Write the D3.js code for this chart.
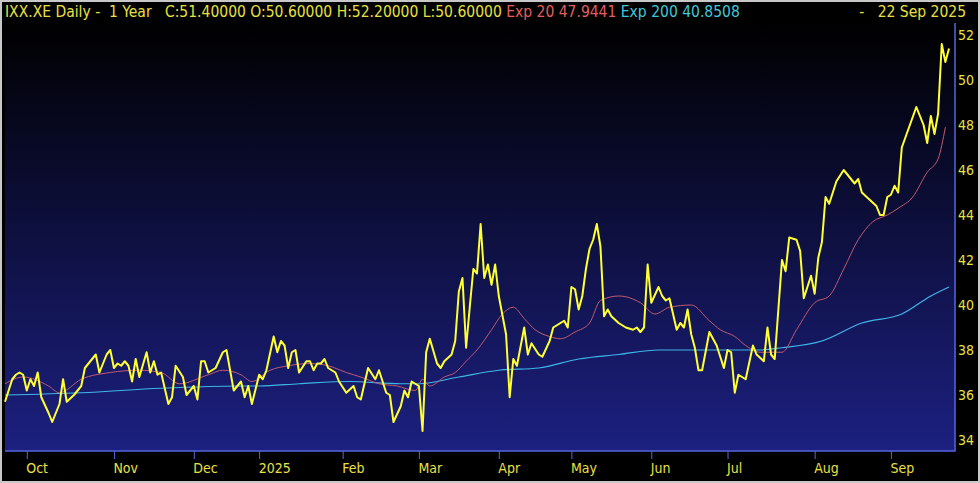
<!DOCTYPE html>
<html><head><meta charset="utf-8">
<script src="https://cdn.jsdelivr.net/npm/d3@7/dist/d3.min.js"></script>
<style>body{margin:0;background:#c8c8c8}svg{display:block}</style>
</head><body><svg id="c" width="980" height="483"></svg>
<script>
const closeDay=[0,2,3,4,5,6,7,8,9,10,12,13,15,16,17,19,21,22,25,26,28,29,30,31,32,33,34,35,36,37,39,40,41,42,43,45,46,47,49,50,51,52,53,54,55,56,58,60,61,63,65,66,67,68,70,71,72,74,75,76,77,78,79,80,81,83,84,85,86,87,88,89,91,92,94,96,97,98,100,102,103,105,106,107,109,110,111,112,114,115,116,117,119,120,121,123,124,125,126,127,128,129,130,131,132,133,134,135,136,138,139,140,141,143,144,145,147,148,150,151,153,154,155,156,157,158,159,160,161,162,163,164,165,166,167,169,171,173,174,175,176,177,178,180,181,182,183,185,186,187,188,189,190,191,192,194,196,198,199,200,201,202,204,206,207,209,210,211,212,214,215,216,218,219,220,222,223,224,225,226,227,229,231,234,235,236,238,240,241,242,243,244,245,246,247,249,251,253,254,255,256,257,258,259,260];
const closeVal=[35.7,36.7,36.9,37.0,36.9,36.2,36.7,36.4,37.0,35.9,35.2,34.8,35.6,36.7,35.7,36.0,36.4,37.2,37.8,37.0,37.8,38.0,37.2,37.4,37.3,37.5,37.3,36.6,37.6,36.8,37.9,37.0,37.5,36.9,37.0,35.6,35.9,37.3,36.8,36.0,36.2,36.4,35.8,37.5,37.5,37.0,37.2,37.9,38.0,36.2,36.6,35.9,36.4,35.6,36.9,36.7,37.1,38.6,37.9,38.4,38.2,37.2,37.9,38.0,37.0,37.5,37.5,37.1,37.4,37.4,37.6,37.2,37.0,36.6,36.1,36.4,35.9,35.8,37.2,36.7,37.1,36.1,36.0,34.8,35.5,36.2,35.9,36.6,36.4,34.4,37.9,38.5,37.4,37.2,37.5,37.8,38.4,40.6,41.2,38.1,39.9,41.6,41.4,43.6,41.2,41.8,40.9,41.8,40.4,38.7,35.9,37.6,37.3,39.0,37.8,38.3,37.8,37.7,38.4,39.0,39.2,39.3,39.0,40.8,40.7,39.8,40.4,41.6,42.5,42.9,43.6,42.6,39.5,39.8,39.5,39.2,39.0,38.9,39.0,38.8,39.0,41.8,40.1,40.8,40.4,40.2,40.3,38.9,39.2,39.0,39.8,38.7,38.1,37.1,37.1,38.8,38.2,37.2,38.0,37.9,36.1,36.9,36.7,38.2,37.8,37.5,39.0,37.8,37.6,42.0,41.5,43.0,42.9,42.4,40.3,41.3,40.5,42.1,42.8,44.8,44.5,45.5,46.0,45.4,45.6,45.0,44.7,44.4,44.0,44.0,44.8,44.9,45.3,45.0,47.0,47.9,48.8,48.0,47.2,48.4,47.6,48.5,51.6,50.8,51.4];
const ema20Day=[0,5,12,15,21,29,37,43,48,56,60,65,68,73,78,84,89,94,98,103,108,113,115,117,121,124,127,130,134,137,140,143,146,150,153,157,161,164,169,175,179,183,189,194,197,201,204,208,212,214,218,223,227,231,235,239,243,246,250,254,257,259];
const ema20Val=[36.5,36.8,36.4,36.1,36.7,37.0,37.1,37.0,36.5,36.9,37.1,36.9,36.6,37.1,37.3,37.4,37.3,37.0,36.8,36.5,36.4,36.2,36.7,36.4,36.8,37.0,37.5,38.0,38.9,39.6,39.9,39.4,38.9,38.6,38.5,38.8,39.2,40.2,40.4,40.1,39.6,39.9,40.0,39.3,38.9,38.6,38.2,37.9,37.9,37.9,38.9,40.1,40.4,41.6,42.9,43.7,44.0,44.3,44.8,45.9,46.5,47.9];
const ema200Day=[0,21,43,65,70,81,95,109,114,125,136,147,158,169,180,191,208,214,225,236,247,255,260];
const ema200Val=[36.0,36.1,36.3,36.4,36.4,36.5,36.6,36.5,36.5,36.8,37.1,37.2,37.6,37.8,38.0,38.0,38.0,38.1,38.4,39.2,39.6,40.4,40.8];
const monthLabels=["Oct","Nov","Dec","2025","Feb","Mar","Apr","May","Jun","Jul","Aug","Sep"];
const monthDay=[6,30,52,70,93,114,136,156,178,199,223,244];
const yTicks=[34,36,38,40,42,44,46,48,50,52];

const svg=d3.select("#c");
const L=5,R=955,T=23,B=451;
const F="'DejaVu Sans Condensed','DejaVu Sans',sans-serif";
svg.append("rect").attr("x",2).attr("y",2).attr("width",976).attr("height",479).attr("fill","#000");
const g=svg.append("defs").append("linearGradient").attr("id","bg").attr("x1",0).attr("y1",0).attr("x2",0).attr("y2",1);
g.append("stop").attr("offset","0%").attr("stop-color","#000000");
g.append("stop").attr("offset","100%").attr("stop-color","#1c2080");
svg.append("rect").attr("x",L).attr("y",T).attr("width",R-L).attr("height",B-T).attr("fill","url(#bg)");
svg.append("path").attr("d",`M${L},${B}H${R}V${T}`).attr("stroke","#5566dd").attr("stroke-width",1.5).attr("fill","none");

const x=d3.scaleLinear().domain([0,260]).range([L,949]);
const y=d3.scaleLinear().domain([34,52]).range([440,35]);
const line=d3.line().x(d=>x(d[0])).y(d=>y(d[1]));
svg.append("path").datum(d3.zip(ema200Day,ema200Val)).attr("d",line.curve(d3.curveMonotoneX)).attr("fill","none").attr("stroke","#3fb6e6").attr("stroke-width",1.2);
svg.append("path").datum(d3.zip(ema20Day,ema20Val)).attr("d",line.curve(d3.curveMonotoneX)).attr("fill","none").attr("stroke","#c05a70").attr("stroke-width",1);
svg.append("path").datum(d3.zip(closeDay,closeVal)).attr("d",line.curve(d3.curveLinear)).attr("fill","none").attr("stroke","#ffff33").attr("stroke-width",2).attr("stroke-linejoin","round");

const yax=svg.append("g").attr("transform",`translate(${R},0)`).call(d3.axisRight(y).tickValues(yTicks).tickSize(0).tickPadding(3));
yax.select(".domain").remove();
yax.selectAll("text").attr("fill","#e8e040").attr("font-family",F).attr("font-size",14);
const xax=svg.append("g").attr("transform",`translate(0,${B})`).call(d3.axisBottom(x).tickValues(monthDay).tickFormat((d,i)=>monthLabels[i]).tickSize(8).tickPadding(4));
xax.select(".domain").remove();
xax.selectAll("line").attr("stroke","#5566dd");
xax.selectAll("text").attr("fill","#e8e040").attr("font-family",F).attr("font-size",14).attr("text-anchor","start").attr("dx",-1);

const hdr=svg.append("text").attr("x",5).attr("y",17).attr("font-family",F).attr("font-size",15.5).attr("xml:space","preserve").style("white-space","pre");
hdr.append("tspan").attr("fill","#e8e040").text("IXX.XE Daily -  1 Year   C:51.40000 O:50.60000 H:52.20000 L:50.60000 ");
hdr.append("tspan").attr("fill","#e06060").text("Exp 20 47.9441 ");
hdr.append("tspan").attr("fill","#40c8d8").text("Exp 200 40.8508");
svg.append("text").attr("x",966).attr("y",17).attr("text-anchor","end").attr("font-family",F).attr("font-size",15.5).attr("fill","#e8e040").style("white-space","pre").text("-   22 Sep 2025");
</script></body></html>
